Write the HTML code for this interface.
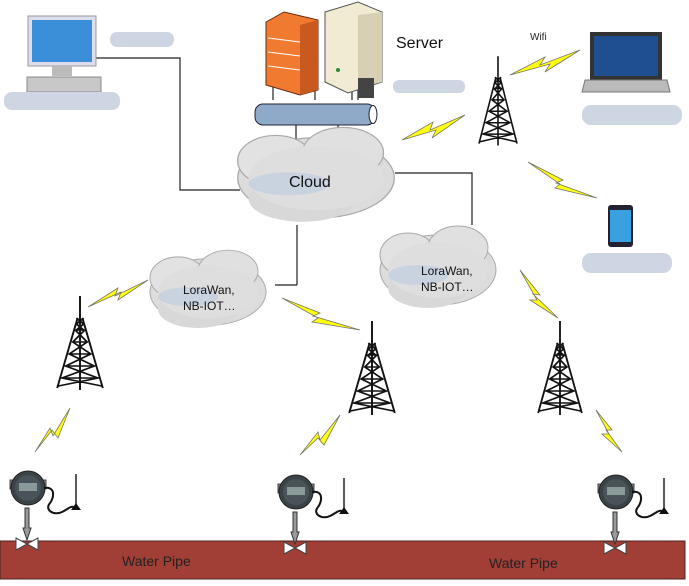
<!DOCTYPE html>
<html><head><style>
body{margin:0;background:#fff}
svg{display:block}
text{font-family:"Liberation Sans",sans-serif}
</style></head><body>
<svg width="689" height="586" viewBox="0 0 689 586" xmlns="http://www.w3.org/2000/svg">
<defs>
<g id="tower" stroke="#111" stroke-width="1.6" fill="none">
<path d="M0,-4 L0,90 M-2,18 L-19,88 M2,18 L19,88 M-4,30 L4,30 M-6,42 L6,42 M-9,54 L9,54 M-12,66 L12,66 M-15,78 L15,78 M-4,30 L6,42 L-9,54 L12,66 L-15,78 L18,86 M4,30 L-6,42 L9,54 L-12,66 L15,78 L-18,86 M-3,18 L3,24 M3,18 L-3,24 M-3,24 L3,30 M3,24 L-3,30"/>
</g>
<g id="cloudA">
<ellipse cx="0" cy="0" rx="58" ry="35" fill="#dcdcdc" stroke="#aaa"/>
<ellipse cx="-30" cy="-15" rx="28" ry="22" fill="#e2e2e2" stroke="#aaa"/>
<ellipse cx="20" cy="-22" rx="30" ry="22" fill="#e0e0e0" stroke="#aaa"/>
<ellipse cx="-10" cy="18" rx="40" ry="20" fill="#d8d8d8"/>
<ellipse cx="0" cy="0" rx="50" ry="28" fill="#dedede"/>
<ellipse cx="-20" cy="5" rx="30" ry="10" fill="#c9d3e0"/>
</g>
<g id="meter">
<path d="M13,40 L13,60 L11,60 L15,72 L19,60 L17,60 L17,40Z" fill="#999" stroke="#333"/>
<rect x="-2" y="12" width="36" height="9" fill="#888" stroke="#444"/>
<circle cx="16" cy="20" r="17" fill="#3a4448" stroke="#222"/>
<circle cx="16" cy="20" r="13" fill="#4a5458"/>
<rect x="7" y="15" width="18" height="8" fill="#8a9a98"/>
<path d="M32,20 C44,18 42,30 38,35 C32,42 42,48 50,44 C58,40 58,38 62,39" stroke="#111" stroke-width="2" fill="none"/>
<line x1="64" y1="6" x2="64" y2="40" stroke="#222" stroke-width="1.5"/>
<path d="M59,42 L69,42 L64,35Z" fill="#111"/>
<path d="M4,70 L4,82 L15,76 L26,82 L26,70 L15,76Z" fill="#fff" stroke="#444"/>
</g>
</defs>

<rect x="0" y="541" width="685" height="38" fill="#a13f37" stroke="#4a2320"/>
<text x="122" y="566" font-size="14" fill="#222">Water Pipe</text>
<text x="489" y="568" font-size="14" fill="#222">Water Pipe</text>

<g stroke="#222" stroke-width="1.2" fill="none">
<polyline points="95,58 180,58 180,190 240,190"/>
<polyline points="395,173 472,173 472,225"/>
<line x1="297" y1="225" x2="297" y2="285"/>
<line x1="275" y1="285" x2="297" y2="285"/>
<line x1="296" y1="123" x2="296" y2="145"/>
<line x1="338" y1="123" x2="338" y2="135"/>
<line x1="273" y1="80" x2="273" y2="100"/>
<line x1="315" y1="80" x2="315" y2="100"/>
<line x1="352" y1="80" x2="352" y2="100"/>
<line x1="358" y1="80" x2="358" y2="100"/>
</g>

<use href="#cloudA" transform="translate(316,178) scale(1.35,1.15)"/>
<use href="#cloudA" transform="translate(208,292) scale(1.0,0.95)"/>
<use href="#cloudA" transform="translate(438,270) scale(1.0,1.0)"/>
<text x="289" y="187" font-size="16" fill="#111">Cloud</text>
<text x="183" y="294" font-size="12" fill="#111">LoraWan,</text>
<text x="183" y="310" font-size="12" fill="#111">NB-IOT…</text>
<text x="421" y="275" font-size="12" fill="#111">LoraWan,</text>
<text x="421" y="291" font-size="12" fill="#111">NB-IOT…</text>

<rect x="255" y="104" width="120" height="21" rx="8" fill="#8fa9c8" stroke="#223"/>
<ellipse cx="373" cy="114.5" rx="4" ry="9" fill="#fff" stroke="#223"/>

<path d="M266,22 L284,12 L318,20 L318,90 L300,95 L266,85Z" fill="#f07a30" stroke="#6a2a08"/>
<path d="M300,25 L318,20 L318,90 L300,95Z" fill="#c85a20"/>
<g stroke="#fff" stroke-width="1"><line x1="268" y1="38" x2="300" y2="42"/><line x1="268" y1="52" x2="300" y2="56"/><line x1="268" y1="66" x2="300" y2="70"/></g>
<path d="M325,12 L358,2 L382,12 L382,82 L348,93 L325,82Z" fill="#f1ebd3" stroke="#555"/>
<path d="M358,15 L382,12 L382,82 L358,88Z" fill="#d8d0b4"/>
<rect x="358" y="78" width="16" height="20" fill="#444"/>
<circle cx="338" cy="70" r="2" fill="#2a8a3a"/>
<text x="396" y="48" font-size="16" fill="#111">Server</text>

<rect x="28" y="16" width="68" height="50" fill="#dde" stroke="#999"/>
<rect x="32" y="20" width="60" height="42" fill="#3b8fd8"/>
<rect x="52" y="66" width="20" height="10" fill="#bbb"/>
<rect x="27" y="77" width="74" height="15" fill="#c8c8c8" stroke="#888"/>
<rect x="590" y="32" width="72" height="48" fill="#333"/>
<rect x="594" y="36" width="64" height="40" fill="#1f4f90"/>
<path d="M585,80 L667,80 L670,92 L582,92Z" fill="#bbb" stroke="#777"/>
<rect x="608" y="205" width="25" height="42" rx="3" fill="#223"/>
<rect x="610" y="210" width="21" height="32" fill="#3aa0e0"/>

<g fill="#cdd6e2">
<rect x="110" y="32" width="64" height="15" rx="7"/>
<rect x="4" y="92" width="116" height="18" rx="8"/>
<rect x="393" y="80" width="72" height="13" rx="6"/>
<rect x="582" y="105" width="100" height="20" rx="9"/>
<rect x="582" y="253" width="90" height="20" rx="9"/>
</g>
<text x="530" y="40" font-size="10" fill="#222" font-family="Liberation Serif">Wifi</text>

<use href="#tower" transform="translate(498,60) scale(1.0,0.95)"/>
<use href="#tower" transform="translate(80,300) scale(1.2,1.0)"/>
<use href="#tower" transform="translate(372,325) scale(1.2,1.0)"/>
<use href="#tower" transform="translate(560,325) scale(1.15,1.0)"/>

<g fill="#ffff10" stroke="#776" stroke-width="0.8">
<polygon points="510,75 545,57 540,65 580,50 545,72 550,64"/>
<polygon points="402,140 433,122 430,130 465,115 432,138 436,130"/>
<polygon points="528,162 563,180 556,183 597,198 555,188 560,184"/>
<polygon points="88,307 118,288 115,296 148,280 118,300 121,292"/>
<polygon points="282,298 320,313 313,316 360,330 312,322 318,318"/>
<polygon points="520,270 540,295 533,294 558,318 530,300 537,300"/>
<polygon points="35,452 50,428 53,436 70,408 58,438 52,430"/>
<polygon points="300,455 318,432 320,440 340,415 324,445 318,438"/>
<polygon points="596,410 612,430 606,430 622,452 602,434 609,434"/>
</g>

<use href="#meter" transform="translate(12,468)"/>
<use href="#meter" transform="translate(280,472)"/>
<use href="#meter" transform="translate(600,472)"/>
</svg>
</body></html>
